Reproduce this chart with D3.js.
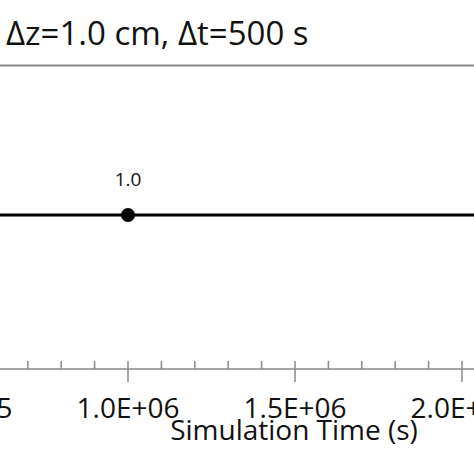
<!DOCTYPE html><html><head><script src="https://cdn.jsdelivr.net/npm/d3@7"></script>
<style>body{margin:0;background:#fff}svg{display:block}</style></head><body><script>
const times=[0,1e6,2.5e6];
const values=[1.0,1.0,1.0];
const markerTimes=[1e6];
const markerValues=[1.0];
const markerLabels=["1.0"];
const title="Δz=1.0 cm, Δt=500 s";
const xTitle="Simulation Time (s)";
const W=474,H=474,font="'Open Sans', sans-serif";
const svg=d3.select("body").append("svg").attr("width",W).attr("height",H);
const x=d3.scaleLinear().domain([0,2.5e6]).range([-206,629]);
const y=d3.scaleLinear().domain([0,2]).range([367,63]);
svg.append("text").attr("x",6).attr("y",45).attr("font-family",font).attr("font-size",33).attr("fill","#111").text(title);
svg.append("line").attr("x1",0).attr("x2",W).attr("y1",65.5).attr("y2",65.5).attr("stroke","#888").attr("stroke-width",2);
const ax=svg.append("g").attr("transform","translate(0,369)");
ax.append("line").attr("x1",0).attr("x2",W).attr("stroke","#888").attr("stroke-width",1.5);
const minor=d3.range(0,2.6e6,1e5);
ax.selectAll(".mt").data(minor).join("line").attr("x1",d=>x(d)).attr("x2",d=>x(d))
 .attr("y1",-8).attr("y2",d=>Math.round(d/1e5)%5===0?13:0).attr("stroke","#888").attr("stroke-width",1.5);
const majors=[5e5,1e6,1.5e6,2e6];
ax.selectAll(".tl").data(majors).join("text").attr("x",d=>x(d)).attr("y",49).attr("text-anchor","middle")
 .attr("font-family",font).attr("font-size",28).attr("fill","#111").text(d=>d.toExponential(1).toUpperCase().replace("E+6","E+06").replace("E+5","E+05"));
svg.append("text").attr("x",294).attr("y",440).attr("text-anchor","middle").attr("font-family",font).attr("font-size",28).attr("fill","#111").text(xTitle);
const line=d3.line().x((d,i)=>x(times[i])).y(d=>y(d));
svg.append("path").attr("d",line(values)).attr("fill","none").attr("stroke","#000").attr("stroke-width",3);
svg.selectAll(".pt").data(markerValues).join("circle").attr("cx",(d,i)=>x(markerTimes[i])).attr("cy",d=>y(d)).attr("r",7).attr("fill","#000");
svg.selectAll(".pl").data(markerValues).join("text").attr("x",(d,i)=>x(markerTimes[i])).attr("y",d=>y(d)-29)
 .attr("text-anchor","middle").attr("font-family",font).attr("font-size",19).attr("fill","#111").text((d,i)=>markerLabels[i]);
</script></body></html>
